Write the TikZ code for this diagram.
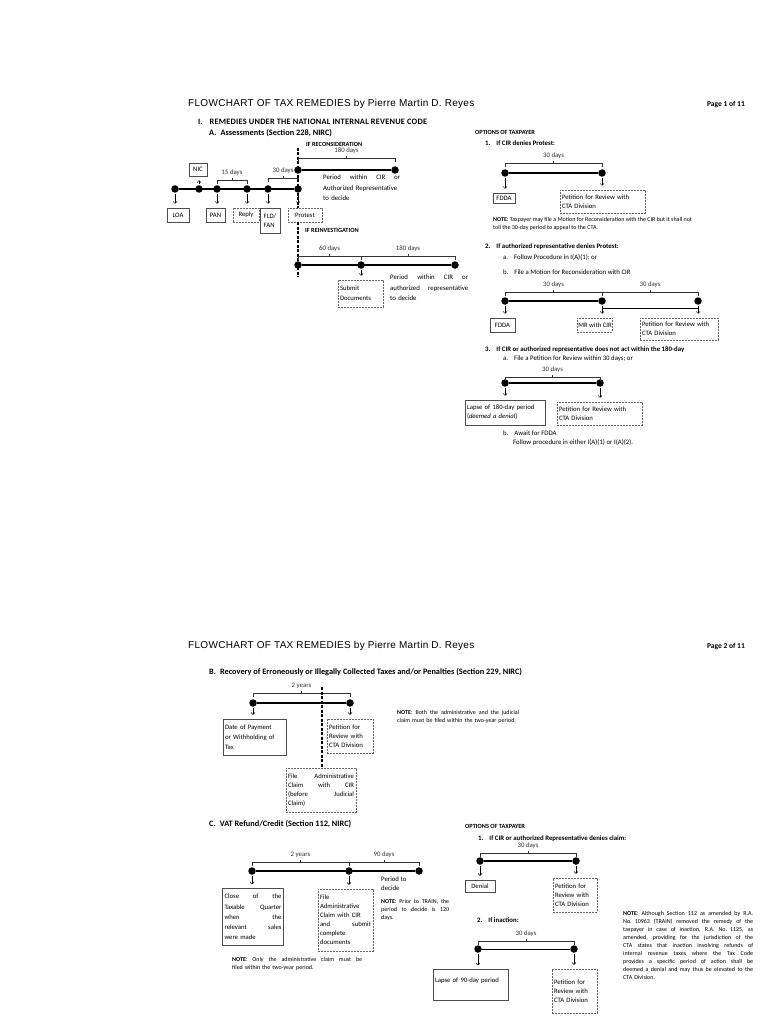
\documentclass[tikz,border=0pt]{standalone}
\usepackage{fontspec}
\setmainfont{Carlito}
\newfontfamily\titlefont[LetterSpace=3.0]{Liberation Sans}
\usetikzlibrary{calc,arrows.meta}
\def\spanbrace[#1](#2)(#3)#4{\draw[bracket] ($(#2)+(0,-#1)+(0,4)$) |- ($(#3)+(0,-#1)$) -- ++(0,4); \draw[bracket] ($(#2)!0.5!(#3)+(0,-#1)$) -- ++(0,-2) node[dayslabel] {#4};}
\def\jline#1{\makebox[\hsize][s]{\spaceskip=0.3333em plus 2em\relax #1}}

\tikzset{
	dot/.style={circle, fill=black, inner sep=0pt, minimum size=7.5pt},
	timeline/.style={line width=2pt},
	bracket/.style={line width=0.5pt, black!80},
	dayslabel/.style={above=1pt, inner sep=1pt, font=\fontsize{6.8}{8}\selectfont},
	arrowdown/.style={-{Straight Barb[length=2pt,width=4pt]}, line width=0.5pt, shorten <=1pt, shorten >=4pt},
	solidbox/.style={draw=black!70, line width=0.5pt, inner sep=2pt, font=\fontsize{6.7}{9}\selectfont, align=left},
	dashbox/.style={solidbox, draw=black!60, dash pattern=on 2pt off 1pt},
	smalltext/.style={inner sep=0pt, font=\fontsize{6.8}{10.5}\selectfont, align=left, anchor=north west},
	notetext/.style={inner sep=0pt, font=\fontsize{6}{8}\selectfont, align=left, anchor=north west},
	titletext/.style={inner sep=0pt, anchor=base west, font=\titlefont\fontsize{10}{11}\selectfont},
	pagetext/.style={inner sep=0pt, anchor=base east, font=\fontsize{7.5}{8}\selectfont\bfseries},
	headline/.style={inner sep=0pt, anchor=base west, font=\fontsize{8.3}{9}\selectfont\bfseries},
	subhead/.style={inner sep=0pt, anchor=base west, font=\fontsize{6.8}{8}\selectfont\bfseries},
	capshead/.style={inner sep=0pt, anchor=base west, font=\fontsize{6.3}{7}\selectfont\bfseries},
	itemtext/.style={inner sep=0pt, anchor=base west, font=\fontsize{6.8}{8}\selectfont},
	divide/.style={line width=1.3pt, dash pattern=on 3pt off 1.5pt},
}

\begin{document}
\begin{tikzpicture}[x=1pt, y=-1pt]
	%%%%% START %%%%%
	\useasboundingbox[fill=white] (0,0) rectangle (768,1024);

	%%%%% PAGE 1 %%%%%
	\node[titletext] (title1) at (188,107) {FLOWCHART OF TAX REMEDIES by Pierre Martin D. Reyes};
	\node[pagetext] (page1) at (745,107) {Page 1 of 11};
	\node[headline] (sec1) at (198,125) {I.\hspace{7pt}{\addfontfeature{LetterSpace=3.0}REMEDIES UNDER THE NATIONAL INTERNAL REVENUE CODE}};
	\node[headline] (secA) at (209,136) {A.\hspace{4pt}Assessments (Section 228, NIRC)};

	% assessment timeline
	\node[dot] (loa-d) at (175,189) {};
	\node[dot] (nic-d) at (199,189) {};
	\node[dot] (pan-d) at (217,189) {};
	\node[dot] (reply-d) at (247,189) {};
	\node[dot] (fan-d) at (268,189) {};
	\node[dot] (protest-d) at (298,189) {};
	\draw[timeline] (loa-d) -- (protest-d);

	\node[solidbox, minimum width=22pt, minimum height=14pt, inner sep=1pt] (loa) at (178,215) {LOA};
	\node[solidbox, minimum width=18pt, minimum height=13pt, inner sep=1pt] (nic) at (198,169.5) {NIC};
	\node[solidbox, minimum width=19pt, minimum height=14pt, inner sep=1pt] (pan) at (215.5,215) {PAN};
	\node[dashbox, minimum width=26pt, minimum height=14pt, inner sep=1pt] (reply) at (246,215) {Reply};
	\node[solidbox, minimum width=20pt, minimum height=25pt, inner sep=1pt] (fan) at (270,220.5) {FLD/\\FAN};
	\node[dashbox, minimum width=34pt, minimum height=14pt] (protest) at (305,215) {Protest};

	\draw[arrowdown] (loa-d) -- (loa-d |- loa.north);
	\draw[arrowdown] (nic-d) -- (nic-d |- nic.south);
	\draw[arrowdown] (pan-d) -- (pan-d |- pan.north);
	\draw[arrowdown] (reply-d) -- (reply-d |- reply.north);
	\draw[arrowdown] (fan-d) -- (fan-d |- fan.north);
	\draw[arrowdown] (protest-d) -- (protest-d |- protest.north);

	\spanbrace[9](pan-d)(reply-d){15 days}
	\spanbrace[11](fan-d)(protest-d){30 days}

	% divider between reconsideration and reinvestigation
	\coordinate (divtop) at (298,148);
	\coordinate (divbot) at (298,277);
	\draw[divide] (divtop) -- (protest.north -| divtop);
	\draw[divide] (protest.south -| divtop) -- (divbot);

	% if reconsideration
	\node[capshead] (recon) at (306,147) {IF RECONSIDERATION};
	\node[dot] (recon-a) at (298,170) {};
	\node[dot] (recon-b) at (395,170) {};
	\draw[timeline] (recon-a) -- (recon-b);
	\spanbrace[12](recon-a)(recon-b){180 days}
	\node[smalltext, text width=77pt] (recon-txt) at (323,175) {\jline{Period within CIR or}\\Authorized Representative\\to decide};

	% if reinvestigation
	\node[capshead] (reinv) at (305,233) {IF REINVESTIGATION};
	\node[dot] (rein-a) at (298,265) {};
	\node[dot] (rein-b) at (361,265) {};
	\node[dot] (rein-c) at (455,265) {};
	\draw[timeline] (rein-a) -- (rein-c);
	\spanbrace[9](rein-a)(rein-b){60 days}
	\spanbrace[9](rein-b)(rein-c){180 days}
	\node[dashbox, text width=41pt, minimum height=27pt, font=\fontsize{6.7}{10}\selectfont] (submit) at (360.5,293.5) {Submit\\Documents};
	\draw[arrowdown] (rein-b) -- (rein-b |- submit.north);
	\node[smalltext, text width=78pt] (rein-txt) at (390,275) {\jline{Period within CIR or}\\\jline{authorized representative}\\to decide};

	% options of taxpayer
	\node[capshead] (opts1) at (475,135) {OPTIONS OF TAXPAYER};
	\node[subhead] (opt1) at (485,146) {1.\hspace{6pt}If CIR denies Protest:};
	\node[dot] (opt1a) at (505,173) {};
	\node[dot] (opt1b) at (602,173) {};
	\draw[timeline] (opt1a) -- (opt1b);
	\spanbrace[10](opt1a)(opt1b){30 days}
	\node[solidbox, minimum width=22pt, minimum height=10pt, inner sep=1pt] (fdda1) at (504,198) {FDDA};
	\node[dashbox, text width=81pt, minimum height=23pt] (pet1) at (602.5,201.5) {Petition for Review with\\CTA Division};
	\draw[arrowdown] (opt1a) -- (opt1a |- fdda1.north);
	\draw[arrowdown] (opt1b) -- (opt1b |- pet1.north);
	\node[notetext] (note1) at (493,217) {\textbf{NOTE}: Taxpayer may file a Motion for Reconsideration with the CIR but it shall not\\toll the 30-day period to appeal to the CTA.};

	\node[subhead] (opt2) at (485,248) {2.\hspace{6pt}If authorized representative denies Protest:};
	\node[itemtext] (opt2-ia) at (503,259) {a.\hspace{6pt}Follow Procedure in I(A)(1); or};
	\node[itemtext] (opt2-ib) at (503,274) {b.\hspace{6pt}File a Motion for Reconsideration with CIR};
	\node[dot] (opt2a) at (505,301) {};
	\node[dot] (opt2b) at (602,301) {};
	\node[dot] (opt2c) at (698,301) {};
	\draw[timeline] (opt2a) -- (opt2b);
	\spanbrace[9](opt2a)(opt2b){30 days}
	\spanbrace[9](opt2b)(opt2c){30 days}
	\node[solidbox, minimum width=25pt, minimum height=14pt, inner sep=1pt] (fdda2) at (502.5,325) {FDDA};
	\node[dashbox, minimum width=34pt, minimum height=14pt, inner sep=1pt] (mrcir) at (595,325) {MR with CIR};
	\node[dashbox, text width=74pt, minimum height=22pt] (pet2) at (679,329) {Petition for Review with\\CTA Division};
	\coordinate (mrjoin) at (602,308);
	\draw[line width=0.6pt] (mrjoin) -- (mrjoin -| opt2c);
	\draw[arrowdown] (opt2a) -- (opt2a |- fdda2.north);
	\draw[arrowdown] (opt2b) -- (opt2b |- mrcir.north);
	\draw[arrowdown] (opt2c) -- (opt2c |- pet2.north);

	\node[subhead] (opt3) at (485,351) {3.\hspace{6pt}If CIR or authorized representative does not act within the 180-day};
	\node[itemtext] (opt3-ia) at (503,360) {a.\hspace{6pt}File a Petition for Review within 30 days; or};
	\node[dot] (opt3a) at (505,383) {};
	\node[dot] (opt3b) at (600,383) {};
	\draw[timeline] (opt3a) -- (opt3b);
	\spanbrace[6](opt3a)(opt3b){30 days}
	\node[solidbox, text width=76pt, minimum height=25pt] (lapse180) at (505,412.5) {Lapse of 180-day period\\(\textit{deemed a denial})};
	\node[dashbox, text width=81pt, minimum height=23pt] (pet3) at (599.5,413.5) {Petition for Review with\\CTA Division};
	\draw[arrowdown] (opt3a) -- (opt3a |- lapse180.north);
	\draw[arrowdown] (opt3b) -- (opt3b |- pet3.north);
	\node[itemtext] (opt3-ib) at (503,435) {b.\hspace{6pt}Await for FDDA};
	\node[itemtext] (opt3-ic) at (513,444) {Follow procedure in either I(A)(1) or I(A)(2).};

	%%%%% PAGE 2 %%%%%
	\node[titletext] (title2) at (188,648) {FLOWCHART OF TAX REMEDIES by Pierre Martin D. Reyes};
	\node[pagetext] (page2) at (745,648) {Page 2 of 11};
	\node[headline] (secB) at (209,674) {B.\hspace{4pt}Recovery of Erroneously or Illegally Collected Taxes and/or Penalties (Section 229, NIRC)};

	% recovery timeline
	\node[dot] (rec-a) at (253,703) {};
	\node[dot] (rec-b) at (350,703) {};
	\draw[timeline] (rec-a) -- (rec-b);
	\spanbrace[10](rec-a)(rec-b){2 years}
	\node[solidbox, text width=59pt, minimum height=36pt, font=\fontsize{6.7}{10}\selectfont] (dateb) at (254.5,737) {Date of Payment\\or Withholding of\\Tax};
	\node[dashbox, text width=42pt, minimum height=34pt] (petb) at (350,736) {Petition for\\Review with\\CTA Division};
	\draw[arrowdown] (rec-a) -- (rec-a |- dateb.north);
	\draw[arrowdown] (rec-b) -- (rec-b |- petb.north);
	\node[dashbox, text width=66pt, minimum height=44pt] (fileb) at (321,790) {\jline{File Administrative}\\\jline{Claim with CIR}\\\jline{(before Judicial}\\Claim)};
	\coordinate (bdiv) at (322,687);
	\draw[divide] (bdiv) -- (bdiv |- fileb.north);
	\node[notetext, text width=122pt] (noteb) at (397,710) {\jline{\textbf{NOTE}: Both the administrative and the judicial}\\\mbox{claim must be filed within the two-year period.}};

	% vat refund timeline
	\node[headline] (secC) at (209,826) {C.\hspace{4pt}VAT Refund/Credit (Section 112, NIRC)};
	\node[dot] (vat-a) at (252,871) {};
	\node[dot] (vat-b) at (349,871) {};
	\node[dot] (vat-c) at (419,871) {};
	\draw[timeline] (vat-a) -- (vat-c);
	\spanbrace[9](vat-a)(vat-b){2 years}
	\spanbrace[9](vat-b)(vat-c){90 days}
	\node[solidbox, text width=57pt, minimum height=57pt, font=\fontsize{6.7}{10.3}\selectfont] (closeq) at (253,917) {\jline{Close of the}\\\jline{Taxable Quarter}\\\jline{when the}\\\jline{relevant sales}\\were made};
	\node[dashbox, text width=51pt, minimum height=62pt] (filec) at (345.5,920) {File\\Administrative\\Claim with CIR\\\jline{and submit}\\complete\\documents};
	\draw[arrowdown] (vat-a) -- (vat-a |- closeq.north);
	\draw[arrowdown] (vat-b) -- (vat-b |- filec.north);
	\node[smalltext, font=\fontsize{6.8}{9}\selectfont] (decide) at (381,877) {Period to\\decide};
	\node[notetext, text width=68pt] (notetrain) at (381,899) {\jline{\textbf{NOTE}: Prior to TRAIN, the}\\\jline{period to decide is 120}\\days.};
	\node[notetext, text width=130pt] (notec) at (232,957) {\jline{\textbf{NOTE}: Only the administrative claim must be}\\filed within the two-year period.};

	% options of taxpayer, vat
	\node[capshead] (opts2) at (465,828) {OPTIONS OF TAXPAYER};
	\node[subhead] (optc1) at (478,840) {1.\hspace{6pt}If CIR or authorized Representative denies claim:};
	\node[dot] (vto-a) at (480,861) {};
	\node[dot] (vto-b) at (576,861) {};
	\draw[timeline] (vto-a) -- (vto-b);
	\spanbrace[8](vto-a)(vto-b){30 days}
	\node[solidbox, minimum width=30pt, minimum height=12pt, inner sep=1pt] (denial) at (480,886) {Denial};
	\node[dashbox, text width=40pt, minimum height=34pt] (petc1) at (575,895) {Petition for\\Review with\\CTA Division};
	\draw[arrowdown] (vto-a) -- (vto-a |- denial.north);
	\draw[arrowdown] (vto-b) -- (vto-b |- petc1.north);

	\node[subhead] (optc2) at (477,922) {2.\hspace{6pt}If inaction:};
	\node[dot] (inact-a) at (478,949) {};
	\node[dot] (inact-b) at (574,949) {};
	\draw[line width=1pt] (inact-a) -- (inact-b);
	\spanbrace[8](inact-a)(inact-b){30 days}
	\node[solidbox, text width=71pt, minimum height=31pt] (lapse90) at (470.5,985) {Lapse of 90-day period\\\mbox{}};
	\node[dashbox, text width=41pt, minimum height=44pt] (petc2) at (574.5,991) {Petition for\\Review with\\CTA Division};
	\draw[arrowdown] (inact-a) -- (inact-a |- lapse90.north);
	\draw[arrowdown] (inact-b) -- (inact-b |- petc2.north);

	\node[notetext, text width=130pt] (noteinact) at (623,911) {\jline{\textbf{NOTE}: Although Section 112 as amended by R.A.}\\\jline{No. 10963 (TRAIN) removed the remedy of the}\\\jline{taxpayer in case of inaction, R.A. No. 1125, as}\\\jline{amended, providing for the jurisdiction of the}\\\jline{CTA states that inaction involving refunds of}\\\jline{internal revenue taxes where the Tax Code}\\\jline{provides a specific period of action shall be}\\\jline{deemed a denial and may thus be elevated to the}\\CTA Division.};

	%%%%% END %%%%%
\end{tikzpicture}
\end{document}
